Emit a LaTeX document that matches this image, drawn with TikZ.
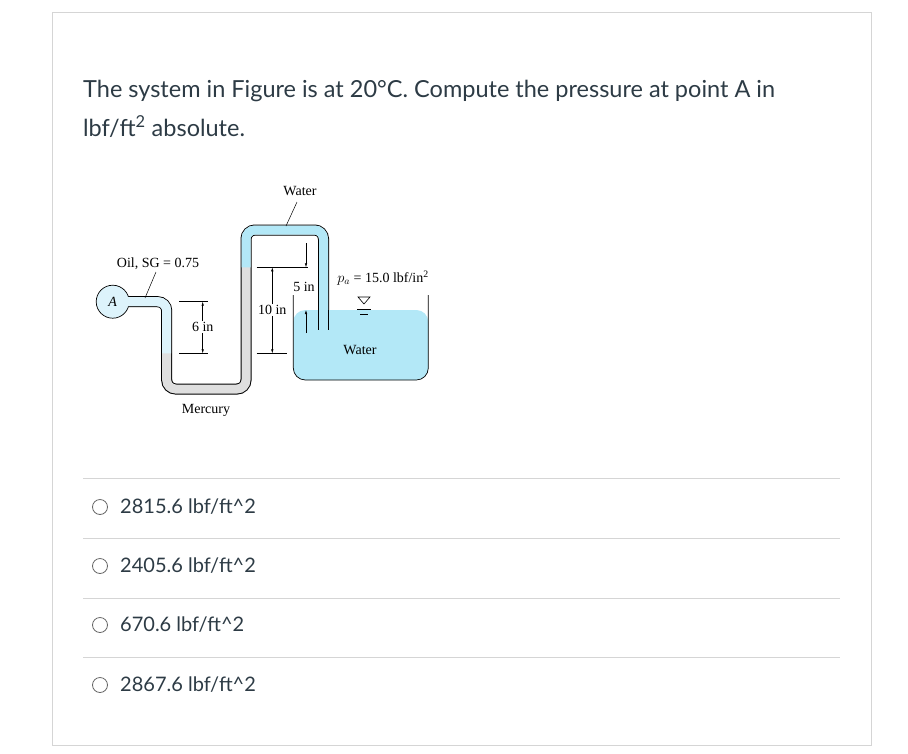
\documentclass[tikz,border=0pt]{standalone}
\usepackage{fontspec}
\setmainfont{Lato}
\newfontfamily\tms{Liberation Serif}
\usetikzlibrary{arrows.meta}
\definecolor{oilc}{HTML}{DDF3FB}
\definecolor{watc}{HTML}{B3E8F7}
\definecolor{merc}{HTML}{DFDFDF}
\definecolor{txt}{HTML}{2D3B45}
\definecolor{sep}{HTML}{D5D5D5}
\begin{document}
\begin{tikzpicture}[x=1pt,y=-1pt,
  lbl/.style={font=\tms\fontsize{14}{16}\selectfont,inner sep=1pt},
  dim/.style={line width=0.5pt},
  arr/.style={line width=0.5pt,-{Latex[length=4pt,width=2.5pt]}},
  opt/.style={font=\fontsize{20}{24}\selectfont,text=txt,anchor=west,inner sep=0pt},
  radio/.style={circle,draw=gray!80!black,line width=0.8pt,minimum size=15pt,inner sep=0pt}]
\useasboundingbox (0,0) rectangle (908,753);
\draw[sep,line width=0.8pt] (52,12) rectangle (871,745);
\node[opt,font=\fontsize{23.5}{28}\selectfont] (t1) at (83,91) {The system in Figure is at 20\textdegree C. Compute the pressure at point A in};
\node[opt,font=\fontsize{23.5}{28}\selectfont] (t2) at (83,127) {lbf/ft\textsuperscript{2} absolute.};
% tube
\def\tubepath{(125,301.7) -- (166.7,301.7) -- (166.7,389) -- (246,389) -- (246,230) -- (323.5,230) -- (323.5,330)}
\draw[line width=11pt,rounded corners=9pt] \tubepath;
\node[circle,draw,fill=oilc,minimum size=33pt,inner sep=0pt,line width=0.7pt] (A) at (112.7,301.7) {};
\node[lbl] at (A) {\itshape A};
\draw[line width=9pt,merc,rounded corners=9pt] (125,301.7) -- (166.7,301.7) -- (166.7,389) -- (246,389) -- (246,230) -- (323.5,230) -- (323.5,330);
\draw[line width=9pt,oilc,rounded corners=9pt] (125,301.7) -- (166.7,301.7) -- (166.7,353.3);
\draw[line width=9pt,watc,rounded corners=9pt] (246,267.3) -- (246,230) -- (323.5,230) -- (323.5,330);
% tank
\fill[watc,rounded corners=12pt] (293.3,310) -- (293.3,380) -- (428.3,380) -- (428.3,310) -- cycle;
\draw[line width=0.7pt,rounded corners=12pt] (293.3,295) -- (293.3,380) -- (428.3,380) -- (428.3,295);
\draw[line width=9pt,watc] (323.5,310) -- (323.5,330);
\draw[line width=0.7pt] (318.5,310) -- (318.5,330) (328.5,310) -- (328.5,330);
% free surface
\draw[line width=0.6pt] (358,297) -- (370,297) -- (364,304) -- cycle;
\draw[line width=0.6pt] (357,309) -- (371,309) (360,314) -- (368,314);
% dims 6 in
\draw[dim] (179,301.7) -- (208,301.7) (179,353.3) -- (208,353.3);
\node[lbl] (d6) at (202.7,327) {6 in};
\draw[arr] (d6.north) -- (202.7,301.7);
\draw[arr] (d6.south) -- (202.7,353.3);
% 10 in
\draw[dim] (256.7,267.3) -- (308,267.3) (256.7,353.3) -- (286.7,353.3);
\node[lbl] (d10) at (272.3,310) {10 in};
\draw[arr] (d10.north) -- (272.3,267.3);
\draw[arr] (d10.south) -- (272.3,353.3);
% 5 in
\node[lbl] (d5) at (304,287) {5 in};
\coordinate (a5t) at (306,243);
\coordinate (a5b) at (306,333);
\draw[arr] (a5t) -- (306,267.3);
\draw[arr] (a5b) -- (306,310);
% labels
\node[lbl] (pa) at (383,278) {$p_a$ = 15.0 lbf/in\textsuperscript{2}};
\node[lbl] (wt) at (360,350) {Water};
\node[lbl] (wtop) at (300,191) {Water};
\draw[line width=0.5pt] (297,202) -- (286,226);
\node[lbl] (oil) at (158,264) {Oil, SG = 0.75};
\draw[line width=0.5pt] (156,272) -- (145,298);
\node[lbl] (mer) at (206,410) {Mercury};
% options
\foreach \y/\t [count=\i] in {507/2815.6, 566/2405.6, 625/670.6, 685/2867.6}{
  \node[radio] (r\i) at (100,\y) {};
  \node[opt] (o\i) at (120,\y) {\t\ lbf/ft\^{}2};
}
\foreach \y in {478,538,598,657}{\draw[sep,line width=0.6pt] (83,\y) -- (840,\y);}
\end{tikzpicture}
\end{document}
